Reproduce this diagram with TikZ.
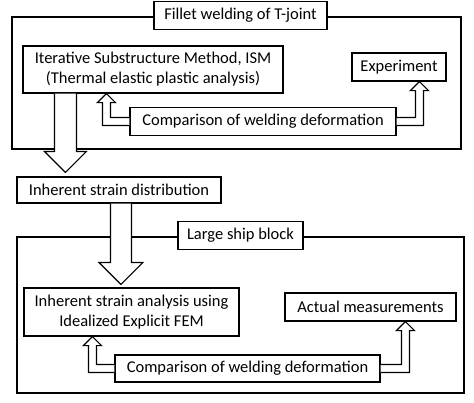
\documentclass[tikz,border=0pt]{standalone}
\usepackage{fontspec}
\setmainfont{Carlito}
\usetikzlibrary{positioning,calc}

\begin{document}
\begin{tikzpicture}[x=1pt,y=-1pt,
		font=\fontsize{16.5}{20}\selectfont,
		frame/.style={draw,line width=2.8pt},
		box/.style={draw,fill=white,line width=1.1pt,inner sep=0pt,align=center},
		hollow/.style={draw,fill=white,line width=1.1pt,line join=miter}]
		\useasboundingbox (0,0) rectangle (474,402);
		% fillet welding of T-joint
		\node[frame,minimum width=449,minimum height=132] (frameT) at (236.5,83) {};
		\node[box,minimum width=173,minimum height=28] (tjoint) at ($(frameT.north)+(4,0)$) {Fillet welding of T-joint};
		\node[box,minimum width=260,minimum height=47] (ism) at (153,69.5) {Iterative Substructure Method, ISM\\(Thermal elastic plastic analysis)};
		\node[box,minimum width=94,minimum height=28] (expt) at (399,67) {Experiment};
		\node[box,minimum width=266,minimum height=28] (cmpT) at (263,121.5) {Comparison of welding deformation};
		%
		\node[box,minimum width=204,minimum height=26] (strain) at (119,190) {Inherent strain distribution};
		%
		% large ship block
		\node[frame,minimum width=447,minimum height=156] (frameB) at (240.5,315) {};
		\node[box,minimum width=125,minimum height=28] (ship) at (frameB.north) {Large ship block};
		\node[box,minimum width=215,minimum height=48] (ieq) at (131.5,312) {Inherent strain analysis using\\Idealized Explicit FEM};
		\node[box,minimum width=171,minimum height=28] (meas) at (370.5,307) {Actual measurements};
		\node[box,minimum width=265,minimum height=27] (cmpB) at (247.5,368.5) {Comparison of welding deformation};
		%
		% big arrows
		\coordinate (s1) at ($(ism.south west)+(43,0)$);
		\coordinate (t1) at ($(s1 |- strain.north)+(0,-4)$);
		\draw[hollow] ($(s1)+(-11,0)$) -- ($(t1)+(-11,-21)$) -- ($(t1)+(-21,-21)$) -- (t1)
		  -- ($(t1)+(21,-21)$) -- ($(t1)+(11,-21)$) -- ($(s1)+(11,0)$);
		\coordinate (s2) at ($(strain.south west)+(104.5,0)$);
		\coordinate (t2) at ($(s2 |- ieq.north)+(0,-3)$);
		\draw[hollow] ($(s2)+(-10.5,0)$) -- ($(t2)+(-10.5,-22)$) -- ($(t2)+(-22,-22)$) -- (t2)
		  -- ($(t2)+(22,-22)$) -- ($(t2)+(10.5,-22)$) -- ($(s2)+(10.5,0)$);
		%
		% comparison arrows
		\coordinate (uL) at ($(ism.south west)+(84,0)$);
		\coordinate (uR) at ($(expt.south west)+(68,0)$);
		\coordinate (dL) at ($(ieq.south west)+(69,0)$);
		\coordinate (dR) at ($(meas.south west)+(121,0)$);
		\draw[hollow] ($(cmpT.west)+(0,-4)$) -| ($(uL)+(4,9)$) -- ($(uL)+(9,9)$) -- (uL)
		  -- ($(uL)+(-9,9)$) -- ($(uL)+(-4,9)$) |- ($(cmpT.west)+(0,4)$);
		\draw[hollow] ($(cmpT.east)+(0,-4)$) -| ($(uR)+(-4,9)$) -- ($(uR)+(-9,9)$) -- (uR)
		  -- ($(uR)+(9,9)$) -- ($(uR)+(4,9)$) |- ($(cmpT.east)+(0,4)$);
		\draw[hollow] ($(cmpB.west)+(0,-4)$) -| ($(dL)+(4,9)$) -- ($(dL)+(9,9)$) -- (dL)
		  -- ($(dL)+(-9,9)$) -- ($(dL)+(-4,9)$) |- ($(cmpB.west)+(0,4)$);
		\draw[hollow] ($(cmpB.east)+(0,-4)$) -| ($(dR)+(-4,9)$) -- ($(dR)+(-9,9)$) -- (dR)
		  -- ($(dR)+(9,9)$) -- ($(dR)+(4,9)$) |- ($(cmpB.east)+(0,4)$);
\end{tikzpicture}
\end{document}
